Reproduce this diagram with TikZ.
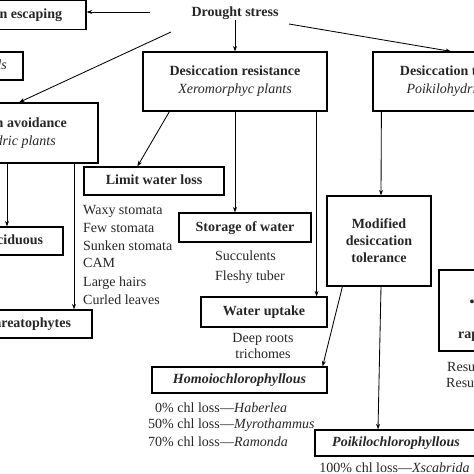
\documentclass[tikz,border=0pt]{standalone}
\usepackage{fontspec}
\setmainfont{Liberation Serif}
\usetikzlibrary{arrows.meta,calc}
\begin{document}
\begin{tikzpicture}[x=1pt,y=-1pt,
  every node/.style={font=\fontsize{14}{18}\selectfont, text=black!85, inner sep=0pt},
  box/.style={draw=black, line width=1.2pt, align=center, font=\fontsize{14}{18}\selectfont\bfseries},
  one/.style={text height=10pt, text depth=3pt},
  itl/.style={font=\fontsize{14}{18}\selectfont\itshape},
  bit/.style={font=\fontsize{14}{18}\selectfont\bfseries\itshape},
  arr/.style={-{Stealth[length=5.5pt,width=4pt]}, line width=0.85pt, draw=black},
  lst/.style={anchor=base west},
]
\useasboundingbox (0,0) rectangle (474,474);
\clip (0,0) rectangle (474,474);

% top
\node[one, font=\fontsize{14}{18}\selectfont\bfseries] (ds) at (235,13) {Drought stress};
\node[box, one, minimum width=171pt, minimum height=29pt] (esc) at (0.5,14.75) {Desiccation escaping};
\node[box, one, itl, draw=black, line width=1.2pt, minimum width=99pt, minimum height=28pt] (eph) at (-26.5,66) {Ephemerals};

\node[box, minimum width=194pt, minimum height=60pt] (avo) at (1,133) {Desiccation avoidance\\ {\mdseries\itshape Homoiohydric plants}\hspace*{9pt}};
\node[box, minimum width=184pt, minimum height=59pt] (res) at (235,81.5) {Desiccation resistance\\ {\mdseries\itshape Xeromorphyc plants}};
\node[box, minimum width=181pt, minimum height=59pt] (tol) at (463.5,81.5) {Desiccation tolerance\\ {\mdseries\itshape Poikilohydric plants}};

% left column
\node[box, one, minimum width=102pt, minimum height=28pt] (dec) at (12,241) {Deciduous};
\node[box, one, minimum width=128pt, minimum height=28pt] (phr) at (28,324) {Phreatophytes};

% resistance branch
\node[box, one, minimum width=140pt, minimum height=28pt] (lim) at (154,181) {Limit water loss};
\node[lst] (l1) at (83,214) {Waxy stomata};
\node[lst] (l2) at (83,232) {Few stomata};
\node[lst] (l3) at (83,250) {Sunken stomata};
\node[lst] (l4) at (83,267.5) {CAM};
\node[lst] (l5) at (83,286) {Large hairs};
\node[lst] (l6) at (83,304) {Curled leaves};

\node[box, one, minimum width=132pt, minimum height=29pt] (sto) at (245,227.5) {Storage of water};
\node[lst] (s1) at (215,260) {Succulents};
\node[lst] (s2) at (215,280) {Fleshy tuber};

\node[box, one, minimum width=126pt, minimum height=30pt] (wat) at (264,312) {Water uptake};
\node[anchor=base] (w1) at (263,342) {Deep roots};
\node[anchor=base] (w2) at (263,358) {trichomes};

% tolerance branch
\node[box, minimum width=104pt, minimum height=90pt, font=\fontsize{14}{17}\selectfont\bfseries] (mod) at (379,241) {Modified\\ desiccation\\ tolerance};

\node[box, one, minimum width=122pt, minimum height=81pt] (full) at (500,310.5) {};
\node[lst, font=\fontsize{14}{18}\selectfont\bfseries] (f1) at (469.5,306.5) {• Full};
\node[lst, font=\fontsize{14}{18}\selectfont\bfseries] (f2) at (458,338) {rapid};
\node[lst] (r1) at (447,371) {Resurrection};
\node[lst] (r2) at (446,387) {Resurrection};

\node[box, one, bit, minimum width=175pt, minimum height=26pt] (hom) at (239.5,380) {Homoiochlorophyllous};
\node[anchor=base east] (h1a) at (220,412) {0\% chl loss};
\node[anchor=base west] (h1b) at (220,412) {---\textit{Haberlea}};
\node[anchor=base east] (h2a) at (220,428.5) {50\% chl loss};
\node[anchor=base west] (h2b) at (220,428.5) {---\textit{Myrothammus}};
\node[anchor=base east] (h3a) at (220,446) {70\% chl loss};
\node[anchor=base west] (h3b) at (220,446) {---\textit{Ramonda}};

\node[box, one, bit, minimum width=162pt, minimum height=26pt] (poi) at (396,443) {Poikilochlorophyllous};
\node[anchor=base] (p1) at (394.5,472) {100\% chl loss---\textit{Xscabrida}};

% connectors
\coordinate (dsL) at (150,12);
\coordinate (dsSW) at (171,32);
\coordinate (dsSE) at (289,24);
\draw[arr] (dsL) -- (dsL -| esc.east);
\draw[arr] (dsSW) -- ($(avo.north)+(18,0)$);
\draw[arr] (ds.south) -- (res.north);
\draw[arr] (dsSE) -- ($(tol.north)+(-12.5,0)$);

\draw[arr] ($(res.south west)+(27,0)$) -- ($(lim.north west)+(54,0)$);
\draw[arr] (res.south) -- (res.south |- sto.north);
\draw[arr] ($(res.south east)+(-11,0)$) coordinate (rse) -- (rse |- wat.north);

\draw[arr] ($(avo.south)+(6,0)$) coordinate (avd) -- (avd |- dec.north);
\draw[arr] ($(avo.south)+(73,0)$) coordinate (avp) -- (avp |- phr.north);

\draw[arr] ($(tol.south west)+(9,0)$) -- ($(mod.north)+(2,0)$);
\draw[arr] ($(mod.south west)+(16,0)$) -- ($(hom.north east)+(-5,0)$);
\draw[arr] ($(mod.south)+(2,0)$) -- ($(poi.north)+(-18,0)$);
\end{tikzpicture}
\end{document}
